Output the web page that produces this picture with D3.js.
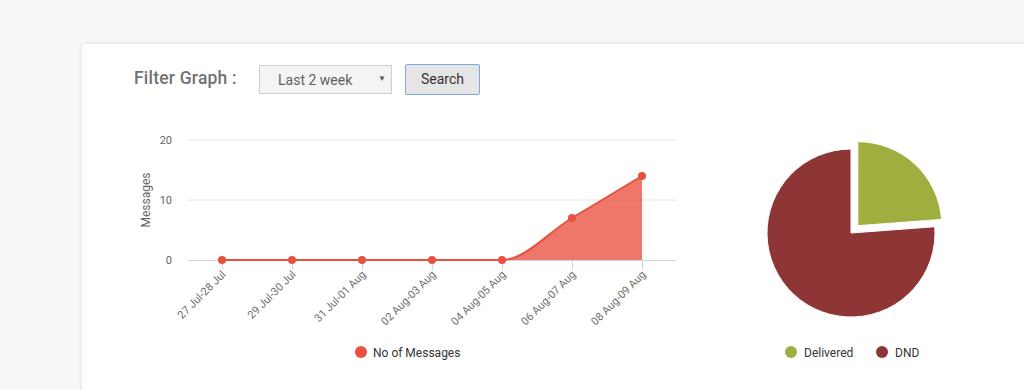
<!DOCTYPE html>
<html>
<head>
<meta charset="utf-8">
<script src="https://cdn.jsdelivr.net/npm/d3@7"></script>
<style>
  html, body { margin: 0; padding: 0; background: #f7f7f7; font-family: Roboto, "Open Sans", sans-serif; overflow: hidden; }
  .card { position: absolute; left: 82px; top: 44px; width: 960px; height: 400px; background: #fff;
          border-radius: 4px; box-shadow: 0 0 4px rgba(0,0,0,0.12); }
  .filter-label { position: absolute; left: 134px; top: 68px; font-size: 17.5px; font-weight: 500; color: #727272; letter-spacing: 0.2px; }
  .select { position: absolute; left: 259px; top: 65px; width: 133px; height: 29px; background: #f4f4f4;
            border: 1px solid #cfcfcf; box-sizing: border-box; font-size: 14px; color: #5f5f5f; }
  .select span { position: absolute; left: 18px; top: 6px; }
  .select i { position: absolute; right: 5px; top: 8px; font-style: normal; font-size: 8px; color: #555; }
  .btn { position: absolute; left: 405px; top: 64px; width: 75px; height: 31px; background: #e5e5e5;
         border: 1px solid #7fa6de; border-radius: 2px; box-sizing: border-box; font-size: 14px; color: #333;
         text-align: center; line-height: 28px; }
  svg { position: absolute; left: 0; top: 0; }
</style>
</head>
<body>
<div class="card"></div>
<div class="filter-label">Filter Graph :</div>
<div class="select"><span>Last 2 week</span><i>▼</i></div>
<div class="btn">Search</div>
<div id="chart"></div>
<script>
// line chart data
let periods = ['27 Jul-28 Jul', '29 Jul-30 Jul', '31 Jul-01 Aug', '02 Aug-03 Aug', '04 Aug-05 Aug', '06 Aug-07 Aug', '08 Aug-09 Aug']
let messages = [0, 0, 0, 0, 0, 7, 14]
let yTicks = [0, 10, 20]

// pie data
let statusNames = ['Delivered', 'DND']
let statusValues = [5, 16]
let statusColors = ['#a0ae3f', '#8e3636']

let svg = d3.select('#chart')
    .append('svg')
    .attr('width', 1024)
    .attr('height', 390)

let lineColor = '#e9513f'

// ---- line / area chart ----
let plot = { left: 187, right: 677, top: 140, bottom: 260 }

let x = d3.scalePoint()
    .domain(periods)
    .range([plot.left, plot.right])
    .padding(0.5)

let y = d3.scaleLinear()
    .domain([0, 20])
    .range([plot.bottom, plot.top])

let g = svg.append('g')

// gridlines
g.selectAll('.grid')
    .data(yTicks.filter(d => d !== 0))
    .enter().append('line')
    .attr('x1', plot.left)
    .attr('x2', plot.right)
    .attr('y1', d => y(d))
    .attr('y2', d => y(d))
    .attr('stroke', '#e6e6e6')

// y axis labels
g.selectAll('.ylab')
    .data(yTicks)
    .enter().append('text')
    .attr('x', 172)
    .attr('y', d => y(d) + 4)
    .attr('text-anchor', 'end')
    .attr('font-size', '11px')
    .attr('fill', '#666')
    .text(d => d)

g.append('text')
    .attr('transform', `translate(150,${(plot.top + plot.bottom) / 2}) rotate(-90)`)
    .attr('text-anchor', 'middle')
    .attr('font-size', '12px')
    .attr('fill', '#666')
    .text('Messages')

// x axis
let xAxis = g.append('g')
    .attr('transform', `translate(0,${plot.bottom})`)
    .call(d3.axisBottom(x).tickSize(10).tickSizeOuter(0))
xAxis.select('.domain').attr('stroke', '#ccd6eb').attr('d', `M${plot.left},0.5H${plot.right}`)
xAxis.selectAll('.tick line').attr('stroke', '#ccd6eb')
xAxis.selectAll('.tick text')
    .attr('font-family', 'Roboto, sans-serif')
    .attr('font-size', '11px')
    .attr('fill', '#6e6e6e')
    .attr('text-anchor', 'end')
    .attr('dy', null)
    .attr('y', null)
    .attr('transform', 'translate(4,15) rotate(-45)')

// area + line
let series = periods.map((p, i) => ({ p: p, v: messages[i] }))

let area = d3.area()
    .x(d => x(d.p))
    .y0(y(0))
    .y1(d => y(d.v))
    .curve(d3.curveMonotoneX)

let line = d3.line()
    .x(d => x(d.p))
    .y(d => y(d.v))
    .curve(d3.curveMonotoneX)

g.append('path')
    .datum(series)
    .attr('d', area)
    .attr('fill', lineColor)
    .attr('fill-opacity', 0.78)

g.append('path')
    .datum(series)
    .attr('d', line)
    .attr('fill', 'none')
    .attr('stroke', lineColor)
    .attr('stroke-width', 2)

g.selectAll('.dot')
    .data(series)
    .enter().append('circle')
    .attr('cx', d => x(d.p))
    .attr('cy', d => y(d.v))
    .attr('r', 4)
    .attr('fill', lineColor)

// legend
let legend = svg.append('g')
    .attr('transform', 'translate(361,352)')
legend.append('circle').attr('r', 6).attr('fill', lineColor)
legend.append('text')
    .attr('x', 12)
    .attr('y', 4.5)
    .attr('font-size', '12px')
    .attr('fill', '#333')
    .text('No of Messages')

// ---- pie chart ----
let pieData = statusNames.map((n, i) => ({ name: n, value: statusValues[i], color: statusColors[i] }))

let pie = d3.pie()
    .value(d => d.value)
    .sort(null)

let arc = d3.arc()
    .innerRadius(0)
    .outerRadius(84)

let pieG = svg.append('g')
    .attr('transform', 'translate(851,233)')

pieG.selectAll('.slice')
    .data(pie(pieData))
    .enter().append('path')
    .attr('d', arc)
    .attr('fill', d => d.data.color)
    .attr('stroke', '#fff')
    .attr('stroke-width', 1)
    .attr('transform', d => {
        // pull the first slice out
        if (d.index !== 0) return null
        let mid = (d.startAngle + d.endAngle) / 2
        return `translate(${Math.sin(mid) * 10},${-Math.cos(mid) * 10})`
    })

let pieLegend = svg.append('g')
    .attr('transform', 'translate(791,352)')
let keys = pieLegend.selectAll('.key')
    .data(pieData)
    .enter().append('g')
    .attr('transform', (d, i) => `translate(${i * 91},0)`)
keys.append('circle').attr('r', 6).attr('fill', d => d.color)
keys.append('text')
    .attr('x', 13)
    .attr('y', 4.5)
    .attr('font-size', '12px')
    .attr('fill', '#333')
    .text(d => d.name)
</script>
</body>
</html>
